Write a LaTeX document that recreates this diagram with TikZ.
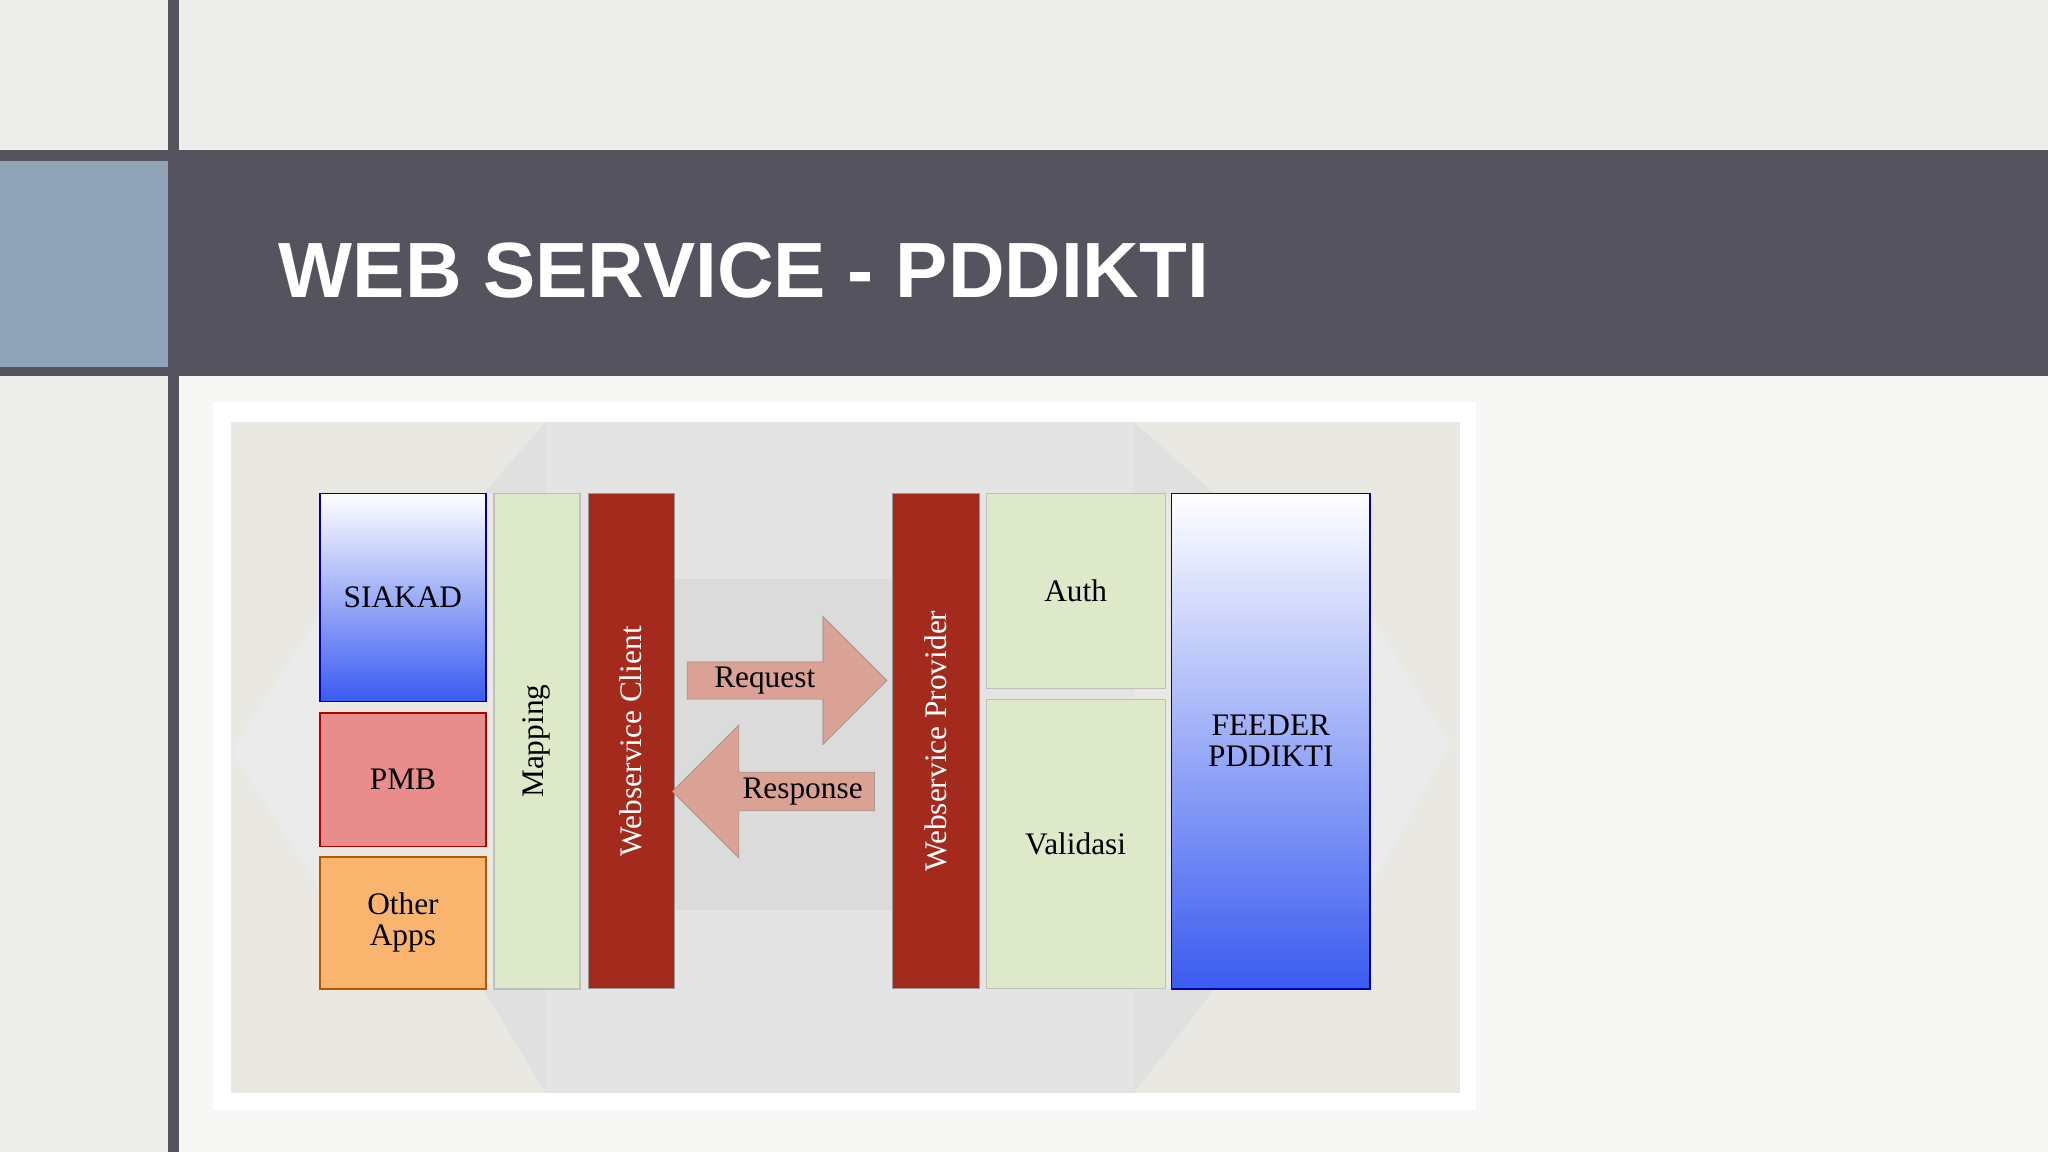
\documentclass[tikz,border=0pt]{standalone}
\usepackage{fontspec}
\setmainfont{Liberation Serif}
\newfontfamily\titlefont{Liberation Sans}
\usetikzlibrary{shapes.arrows}
\definecolor{bg}{HTML}{EDEEEB}
\definecolor{bgr}{HTML}{F7F7F6}
\definecolor{dark}{HTML}{55535D}
\definecolor{steel}{HTML}{91A4B7}
\definecolor{pic}{HTML}{E9E8E2}
\definecolor{pic2}{HTML}{E4E4E4}
\definecolor{grn}{HTML}{DDE9C8}
\definecolor{wred}{HTML}{A52A1E}
\definecolor{arr}{HTML}{D9A294}
\definecolor{blu}{HTML}{3A5BF0}
\tikzset{
 blk/.style={draw=#1!70!black,line width=1.2pt},
 lbl/.style={font=\fontsize{24}{28}\selectfont,align=center},
}
\begin{document}
\begin{tikzpicture}[x=1pt,y=-1pt]
\useasboundingbox (0,0) rectangle (1568,882);
\fill[bg] (0,0) rectangle (1568,882);
\fill[bgr] (137,288) rectangle (1568,882);
\fill[dark] (129,0) rectangle (137,882);
\fill[dark] (0,115) rectangle (1568,288);
\fill[steel] (0,123) rectangle (129,281);
\node[anchor=base west,text=white,font=\titlefont\bfseries\fontsize{60}{66}\selectfont] (title) at (210,228) {WEB SERVICE - PDDIKTI};
% picture frame
\fill[white] (163,308) rectangle (1130,850);
\fill[pic] (177,323) rectangle (1118,837);
\fill[pic2] (418,323) rectangle (868,837);
\fill[black!12] (418,323) -- (370,378) -- (418,378) -- cycle;
\fill[black!12] (418,837) -- (370,757) -- (418,757) -- cycle;
\fill[black!12] (868,323) -- (930,378) -- (868,378) -- cycle;
\fill[black!12] (868,837) -- (930,757) -- (868,757) -- cycle;
\fill[black!8] (177,575) -- (245,470) -- (245,680) -- cycle;
\fill[black!8] (1110,570) -- (1049,470) -- (1049,680) -- cycle;
\fill[black!14] (516,443) rectangle (683,697);
% boxes
\node[blk=blue,top color=white,bottom color=blu,minimum width=127pt,minimum height=159pt,lbl] (siakad) at (308.5,457.5) {SIAKAD};
\node[blk=red,fill=red!45!white!95!black,fill={rgb,255:red,232;green,140;blue,140},minimum width=127pt,minimum height=102pt,lbl] (pmb) at (308.5,597) {PMB};
\node[blk=orange,fill={rgb,255:red,249;green,180;blue,109},minimum width=127pt,minimum height=101pt,lbl] (other) at (308.5,706.5) {Other\\[-4pt]Apps};
\node[blk=green,draw=black!25,fill=grn,minimum width=66pt,minimum height=379pt,lbl] (map) at (411,567.5) {};
\node[lbl,rotate=90] at (map) {Mapping};
\node[draw=black!40,fill=wred,minimum width=66pt,minimum height=379pt] (wsc) at (483,567.5) {};
\node[lbl,rotate=90,text=white] at (wsc) {Webservice Client};
\node[draw=black!40,fill=wred,minimum width=67pt,minimum height=379pt] (wsp) at (716.5,567.5) {};
\node[lbl,rotate=90,text=white] at (wsp) {Webservice Provider};
\node[draw=black!25,fill=grn,minimum width=137pt,minimum height=149pt,lbl] (auth) at (823.5,452.5) {Auth};
\node[draw=black!25,fill=grn,minimum width=137pt,minimum height=222pt,lbl] (val) at (823.5,646) {Validasi};
\node[blk=blue,top color=white,bottom color=blu,minimum width=152pt,minimum height=379pt] (feeder) at (973,567.5) {};
\node[lbl] at (973,567) {FEEDER\\[-4pt]PDDIKTI};
% arrows
\node[single arrow,draw=black!45,fill=arr,minimum height=153pt,minimum width=98pt,single arrow head extend=26pt,inner sep=0pt,lbl] (req) at (595.5,521) {Request\hspace*{20pt}};
\node[single arrow,shape border rotate=180,draw=black!45,fill=arr,minimum height=155pt,minimum width=102pt,single arrow head extend=26pt,inner sep=0pt,lbl] (resp) at (599.5,606) {\hspace*{30pt}Response};
\end{tikzpicture}
\end{document}
